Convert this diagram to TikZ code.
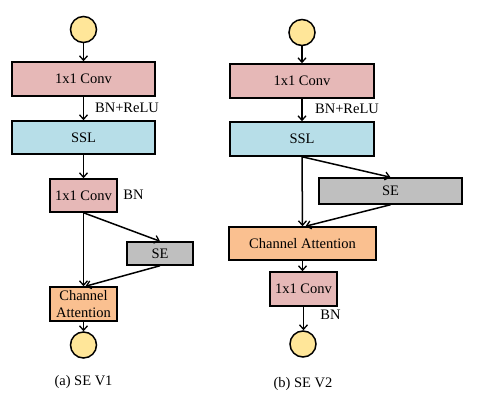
\documentclass[tikz,border=0pt]{standalone}
\usepackage{fontspec}
\setmainfont{Liberation Serif}
\usetikzlibrary{arrows.meta}
\definecolor{convc}{HTML}{E6B8B7}
\definecolor{sslc}{HTML}{B7DEE8}
\definecolor{sec}{HTML}{BFBFBF}
\definecolor{cac}{HTML}{FAC090}
\definecolor{circc}{HTML}{FFE699}
\begin{document}
\begin{tikzpicture}[x=1pt,y=-1pt,
  box/.style={draw=black,line width=1.5pt,inner sep=0pt,font=\fontsize{14.5}{16.5}\selectfont,align=center},
  io/.style={circle,draw=black,line width=1.5pt,fill=circc,minimum size=26pt,inner sep=0pt},
  lbl/.style={font=\fontsize{14.5}{16.5}\selectfont,inner sep=0pt},
  arr/.style={line width=1.5pt,-{Straight Barb[length=4.5pt,width=8pt,line width=1.3pt]}}]
\useasboundingbox (0,0) rectangle (480,410);
% ---- left (a)
\node[io] (ain) at (83.5,29.5) {};
\node[box,fill=convc,minimum width=143pt,minimum height=34pt] (aconv1) at (83.5,79) {1x1 Conv};
\node[box,fill=sslc,minimum width=143pt,minimum height=33pt] (assl) at (83.5,137.5) {SSL};
\node[box,fill=convc,minimum width=67pt,minimum height=33pt] (aconv2) at (83.5,195.5) {1x1 Conv};
\node[box,fill=sec,minimum width=66pt,minimum height=23pt] (ase) at (160,253.5) {SE};
\node[box,fill=cac,minimum width=67pt,minimum height=34pt] (aca) at (83.5,304) {Channel\\Attention};
\node[io] (aout) at (83.5,345) {};
\node[lbl] (abnr) at (127,108) {BN+ReLU};
\node[lbl] (abn) at (133.5,195) {BN};
\node[lbl] (acap) at (83.5,382) {(a) SE V1};
\draw[arr] (ain) -- (aconv1);
\draw[arr] (aconv1) -- (assl);
\draw[arr] (assl) -- (aconv2);
\draw[arr] (aconv2.south) -- (aca.north);
\draw[arr] (aconv2.south) -- (ase.north);
\draw[arr] (ase.south) -- ([xshift=2pt]aca.north);
\draw[arr] (aca) -- (aout);
% ---- right (b)
\node[io] (bin) at (302,32.5) {};
\node[box,fill=convc,minimum width=144pt,minimum height=34pt] (bconv1) at (302,81) {1x1 Conv};
\node[box,fill=sslc,minimum width=144pt,minimum height=34pt] (bssl) at (302,139) {SSL};
\node[box,fill=sec,minimum width=143pt,minimum height=26pt] (bse) at (390.5,191) {SE};
\node[box,fill=cac,minimum width=147pt,minimum height=33pt] (bca) at (302.5,243.5) {Channel Attention};
\node[box,fill=convc,minimum width=67pt,minimum height=34pt] (bconv2) at (303.5,289) {1x1 Conv};
\node[io] (bout) at (303,344) {};
\node[lbl] (bbnr) at (347,109) {BN+ReLU};
\node[lbl] (bbn) at (330.5,315) {BN};
\node[lbl] (bcap) at (303,384) {(b) SE V2};
\draw[arr] (bin) -- (bconv1);
\draw[arr] (bconv1) -- (bssl);
\draw[arr] (bssl.south) -- (bca.north);
\draw[arr] (bssl.south) -- (bse.north);
\draw[arr] (bse.south) -- ([xshift=3pt]bca.north);
\draw[arr] (bca.south) -- (bca.south |- bconv2.north);
\draw[arr] (bconv2.south) -- (bconv2.south |- bout.north);
\end{tikzpicture}
\end{document}
